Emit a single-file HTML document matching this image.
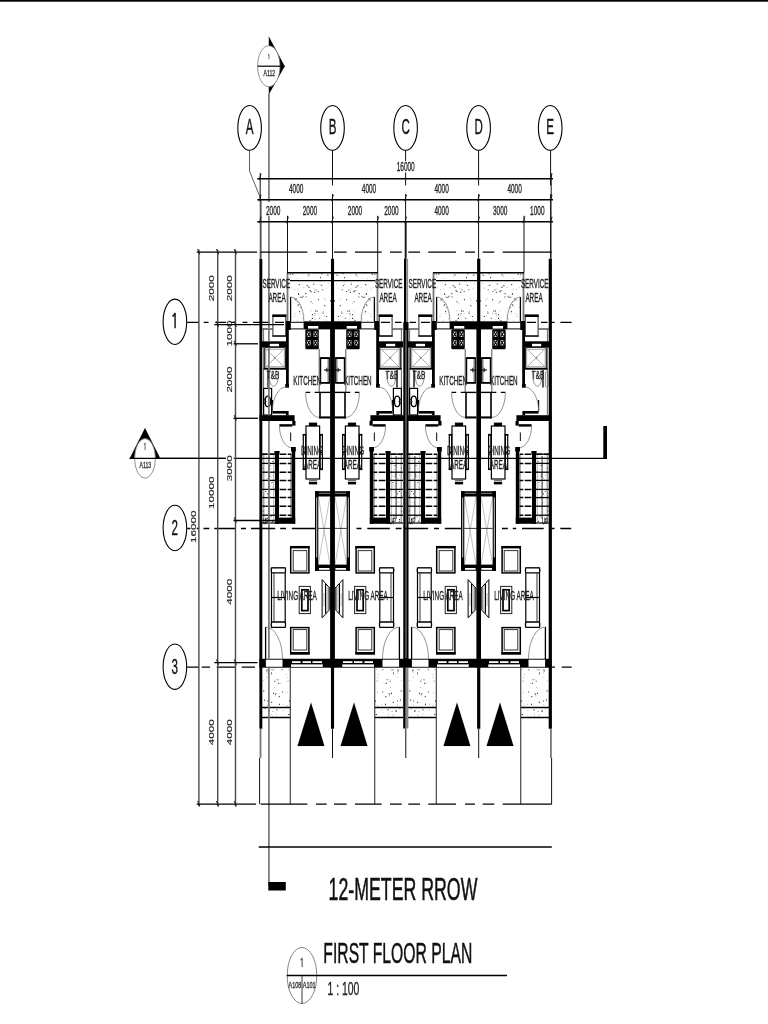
<!DOCTYPE html>
<html><head><meta charset="utf-8"><title>First Floor Plan</title>
<style>html,body{margin:0;padding:0;background:#fff}svg{display:block}</style></head>
<body>
<svg style="will-change:transform" width="768" height="1024" viewBox="0 0 768 1024" font-family="'Liberation Sans',Arial,sans-serif">
<defs><g id="u"><path d="M299.74 297.23h.9M316.75 311.22h.9M290.02 313.47h.9M321.5 273.7h.9M327.47 275.06h.9M312.03 318.4h.9M298.09 293.73h.9M298.31 294.49h.9M298.8 284.61h.9M308.52 287.42h.9M319.31 318.27h.9M324.41 305.57h.9M310.48 301.7h.9M299.21 311.64h.9M317.74 291.47h.9M305.67 296.96h.9M314.25 292.37h.9M311.95 314.64h.9M309.6 290.62h.9M308.45 274.93h.9M292.37 274.4h.9M321.21 285.5h.9M315.6 290.03h.9M295.65 298.76h.9M300.51 307.54h.9M302.61 296.2h.9M305.38 293.68h.9M289.69 274.45h.9M317.89 299.58h.9M298.38 304.53h.9M306.65 285.64h.9M330.08 300.8h.9M310.63 291.63h.9M297.63 305.76h.9M301.5 297.44h.9M326.19 316.51h.9M322.38 289.77h.9M309.58 320.61h.9M319.92 277.64h.9M314.55 313.72h.9M294.61 299.89h.9M322.61 313.12h.9M315.19 310.9h.9M313.29 284.27h.9" fill="none" stroke="#222" stroke-width="1.15"/><path d="M294.56 314.02h.9M319.75 284.51h.9M324.73 300.14h.9M296.78 320.94h.9M293.99 289.47h.9M314.01 315.69h.9M296.22 299.78h.9M310.61 310.73h.9M290.67 307.15h.9M310.35 320.45h.9M310.84 319.03h.9M308.5 286.44h.9M329.86 273.87h.9M324 315.87h.9M323.51 298.34h.9M307.08 276.28h.9M313.25 283.13h.9M311.9 303.34h.9M296.4 301.48h.9M323.05 311.62h.9M299.75 313.75h.9M293.47 316.52h.9M297.77 302.49h.9M319.64 281.24h.9M330.65 311.66h.9M313.5 288.92h.9M291.32 287.84h.9M326.36 288.21h.9M302.11 318.4h.9M326.5 275.41h.9M326.03 320.05h.9M297.13 278.58h.9M297.42 289.23h.9M317.73 313.56h.9M303.55 315.69h.9M327.88 283.76h.9M303.4 287.49h.9M314.71 319.12h.9M290.48 277.09h.9" fill="none" stroke="#aaa" stroke-width="0.9"/>
<path d="M288.03 714.45h.9M278.74 696.56h.9M274.43 681.29h.9M263.33 690.89h.9M277.51 679.72h.9M289.16 701.11h.9M274.87 694.08h.9M281.85 691.95h.9M271.24 702.34h.9M278.24 683.42h.9M264.16 700.06h.9M268.63 710.92h.9M276.49 709.87h.9M268.2 711.17h.9M281.67 669.76h.9M267.17 701.03h.9M266.63 669.97h.9M278.97 704.43h.9M271.57 669.7h.9M271.01 673.18h.9M273.05 693.32h.9M266.34 670.97h.9" fill="none" stroke="#222" stroke-width="1.15"/><path d="M264.86 708.97h.9M280.41 683.24h.9M274.06 687.4h.9M289.06 714.53h.9M272.71 711.72h.9M271.25 674.87h.9M286.37 707.08h.9M286.72 705.43h.9M272.01 716.07h.9M266.89 705h.9M287.2 692.64h.9M272.01 711.28h.9M274.86 695.9h.9M286.75 681.29h.9M270.83 714.92h.9M276.01 693.47h.9M276.22 713.79h.9M264.6 708.24h.9M286.74 677.54h.9M287.99 669.44h.9M263.16 680.68h.9M266.78 677.17h.9M272.86 670.31h.9M282.97 704.31h.9M282.7 710.29h.9M275.18 679.21h.9M285.87 674.42h.9M288.13 680.84h.9M273.77 669.08h.9M266.89 672.88h.9M276.12 716.19h.9" fill="none" stroke="#aaa" stroke-width="0.9"/>
<rect x="286.6" y="272.5" width="1.8" height="49" fill="#777"/>
<line x1="287" y1="272.8" x2="332.5" y2="272.8" stroke="#000" stroke-width="1.4"/>
<line x1="290" y1="280.7" x2="332.5" y2="280.7" stroke="#000" stroke-width="1.3"/>
<line x1="290.6" y1="297" x2="290.6" y2="321.5" stroke="#000" stroke-width="1.3"/>
<path d="M290.6 297A13.2 24 0 0 1 303.8 321" fill="none" stroke="#777" stroke-width="0.8"/>
<rect x="272.9" y="315.3" width="12.8" height="20.6" fill="none" stroke="#333" stroke-width="1.05"/>
<rect x="272.3" y="314.5" width="14" height="2.5" fill="#000"/>
<line x1="272.3" y1="336.1" x2="286.3" y2="336.1" stroke="#000" stroke-width="1.2"/>
<line x1="262.3" y1="329" x2="272.4" y2="329" stroke="#000" stroke-width="1"/>
<line x1="263.6" y1="329" x2="263.6" y2="415" stroke="#444" stroke-width="0.8"/>
<path d="M263.5 322.4H270M275 322.4H284" fill="none" stroke="#000" stroke-width="1.2"/>
<rect x="303.6" y="321.3" width="28.9" height="8.1" fill="#000"/>
<rect x="308" y="326" width="10.3" height="2.6" fill="#fff"/>
<line x1="290.6" y1="322.3" x2="303.8" y2="322.3" stroke="#000" stroke-width="1"/>
<line x1="290.6" y1="328.9" x2="303.8" y2="328.9" stroke="#000" stroke-width="1"/>
<rect x="286" y="321" width="4.8" height="9" fill="#000"/>
<rect x="286" y="321" width="2.8" height="64" fill="#000"/>
<rect x="285.2" y="384" width="3.8" height="3.7" fill="#000"/>
<rect x="305.3" y="329.3" width="13.5" height="20" fill="#000" rx="1" ry="1.5"/>
<rect x="306.9" y="331.7" width="3.7" height="5.2" fill="#fff"/>
<path d="M307.2 332l3.1 4.6M310.3 332l-3.1 4.6" fill="none" stroke="#000" stroke-width="1.1"/>
<rect x="306.9" y="340.1" width="3.7" height="5.2" fill="#fff"/>
<path d="M307.2 340.4l3.1 4.6M310.3 340.4l-3.1 4.6" fill="none" stroke="#000" stroke-width="1.1"/>
<rect x="313.6" y="331.7" width="3.7" height="5.2" fill="#fff"/>
<path d="M313.9 332l3.1 4.6M317 332l-3.1 4.6" fill="none" stroke="#000" stroke-width="1.1"/>
<rect x="313.6" y="340.1" width="3.7" height="5.2" fill="#fff"/>
<path d="M313.9 340.4l3.1 4.6M317 340.4l-3.1 4.6" fill="none" stroke="#000" stroke-width="1.1"/>
<line x1="319.2" y1="349" x2="319.2" y2="392.3" stroke="#555" stroke-width="1"/>
<rect x="320.5" y="358.2" width="8.7" height="24.6" fill="none" stroke="#000" stroke-width="1.4"/>
<rect x="319.8" y="357.2" width="10" height="1.8" fill="#000"/>
<rect x="319.8" y="382" width="10" height="1.6" fill="#000"/>
<line x1="327.9" y1="359" x2="327.9" y2="382" stroke="#777" stroke-width="0.8"/>
<line x1="324" y1="370" x2="330" y2="370" stroke="#000" stroke-width="1.1"/>
<line x1="326.8" y1="367.8" x2="326.8" y2="372.2" stroke="#000" stroke-width="0.9"/>
<line x1="319.3" y1="392.4" x2="330.5" y2="392.4" stroke="#000" stroke-width="1.4"/>
<rect x="319.2" y="392.3" width="1.6" height="26.1" fill="#000"/>
<rect x="319.2" y="416.4" width="11.3" height="2.1" fill="#000"/>
<path d="M305.6 392.4H310.2M314.7 392.4H319.3" fill="none" stroke="#000" stroke-width="1.3"/>
<path d="M305.6 393A13.7 25 0 0 0 319.3 417.4" fill="none" stroke="#777" stroke-width="0.8"/>
<rect x="262" y="341.3" width="25" height="6.2" fill="#000"/>
<rect x="269.8" y="343.8" width="9.2" height="2.5" fill="#fff"/>
<rect x="264.7" y="347.5" width="20.7" height="20.8" fill="none" stroke="#222" stroke-width="1.2"/>
<rect x="265.9" y="349.6" width="18.3" height="16.8" fill="none" stroke="#888" stroke-width="0.6"/>
<path d="M264.7 347.5L285.4 368.3M285.4 347.5L264.7 368.3" fill="none" stroke="#888" stroke-width="0.7"/>
<ellipse cx="274.6" cy="357.9" rx=".8" ry="1.3" fill="#888"/>
<rect x="263.5" y="368" width="22.5" height="1.7" fill="#000"/>
<line x1="268" y1="370" x2="268" y2="387.4" stroke="#000" stroke-width="1.3"/>
<path d="M269 372C269 382 271 386.2 273.6 386.2C276.2 386.2 278.5 382 278.5 372" fill="none" stroke="#777" stroke-width="0.8"/>
<line x1="272.4" y1="400" x2="272.4" y2="411.3" stroke="#000" stroke-width="1.2"/>
<rect x="272.4" y="411" width="14.4" height="2.6" fill="#000"/>
<path d="M286 387A13.7 25 0 0 0 272.3 412" fill="none" stroke="#777" stroke-width="0.8"/>
<rect x="259.4" y="415.2" width="35.2" height="5.8" fill="#000"/>
<rect x="285.9" y="411" width="2.7" height="4.3" fill="#000"/>
<rect x="292.3" y="421" width="3.2" height="4.6" fill="#000"/>
<rect x="279.4" y="424.2" width="13" height="2.4" fill="#000"/>
<path d="M279.4 426A13.1 22.5 0 0 0 292.5 448" fill="none" stroke="#777" stroke-width="0.8"/>
<line x1="290.6" y1="432.5" x2="290.6" y2="441" stroke="#333" stroke-width="1.2"/>
<path d="M265.27 491.46h.9M269.36 496.92h.9M262.75 511.11h.9M265.22 521.71h.9M270.6 516.71h.9M272.44 461.53h.9M265.03 519.69h.9M269.02 474.09h.9M272.16 521.32h.9M271.57 482.5h.9M263.09 496.17h.9M262.95 468.22h.9M269.44 465.47h.9M272.64 480.31h.9M268.44 491.74h.9M267.25 493.86h.9M269.5 497.36h.9M273.39 471.83h.9M269.24 476.44h.9" fill="none" stroke="#222" stroke-width="1.15"/><path d="M271.97 486.92h.9M264.29 497.54h.9M268.46 504.66h.9M263.32 505.8h.9M265.97 457.08h.9M267.89 503.16h.9M271.57 484.79h.9M269.62 475.17h.9M266.92 478.51h.9M269.14 515.58h.9M273 512.38h.9M270.12 465.93h.9M273.4 515.61h.9M270.59 469.15h.9M265.89 506.51h.9M270.65 477.17h.9M273.58 488.86h.9M266.07 460.16h.9M272.32 476.03h.9M268.42 498.14h.9M268.86 496.55h.9M268.28 483.89h.9M265.26 475.17h.9M269.63 486.24h.9M266.55 502.37h.9M262.85 459.06h.9M266.1 479.73h.9M265.96 480.27h.9M262.9 493.14h.9" fill="none" stroke="#aaa" stroke-width="0.9"/>
<line x1="263.8" y1="454" x2="263.8" y2="523" stroke="#555" stroke-width="0.8"/>
<line x1="268.9" y1="456" x2="268.9" y2="519" stroke="#333" stroke-width="1"/>
<line x1="273.8" y1="454" x2="273.8" y2="523" stroke="#999" stroke-width="0.8"/>
<rect x="290.2" y="455" width="1.8" height="62.5" fill="#999"/>
<line x1="262" y1="454.2" x2="275" y2="454.2" stroke="#000" stroke-width="1.3"/>
<path d="M279.6 454.2H286.3M287.7 454.2H291.4" fill="none" stroke="#000" stroke-width="1.5"/>
<line x1="262" y1="463.4" x2="275" y2="463.4" stroke="#000" stroke-width="1.3"/>
<path d="M279.6 463.4H286.3M287.7 463.4H291.4" fill="none" stroke="#000" stroke-width="1.5"/>
<line x1="262" y1="472.2" x2="275" y2="472.2" stroke="#000" stroke-width="1.3"/>
<path d="M279.6 472.2H286.3M287.7 472.2H291.4" fill="none" stroke="#000" stroke-width="1.5"/>
<line x1="262" y1="480.4" x2="275" y2="480.4" stroke="#000" stroke-width="1.3"/>
<path d="M279.6 480.4H286.3M287.7 480.4H291.4" fill="none" stroke="#000" stroke-width="1.5"/>
<line x1="262" y1="489.4" x2="275" y2="489.4" stroke="#000" stroke-width="1.3"/>
<path d="M279.6 489.4H286.3M287.7 489.4H291.4" fill="none" stroke="#000" stroke-width="1.5"/>
<line x1="262" y1="497.6" x2="275" y2="497.6" stroke="#000" stroke-width="1.3"/>
<path d="M279.6 497.6H286.3M287.7 497.6H291.4" fill="none" stroke="#000" stroke-width="1.5"/>
<line x1="262" y1="506.2" x2="275" y2="506.2" stroke="#000" stroke-width="1.3"/>
<path d="M279.6 506.2H286.3M287.7 506.2H291.4" fill="none" stroke="#000" stroke-width="1.5"/>
<line x1="262" y1="515.2" x2="275" y2="515.2" stroke="#000" stroke-width="1.3"/>
<path d="M279.6 515.2H286.3M287.7 515.2H291.4" fill="none" stroke="#000" stroke-width="1.5"/>
<path d="M262 454.2H267M268.75 454.2H274.4" fill="none" stroke="#000" stroke-width="1.3"/>
<line x1="262" y1="523" x2="275" y2="523" stroke="#000" stroke-width="1.2"/>
<rect x="291.8" y="448" width="3.4" height="75.7" fill="#000"/>
<rect x="291" y="447" width="4.8" height="4.5" fill="#000"/>
<rect x="275" y="452" width="4" height="71.7" fill="#000"/>
<rect x="274.4" y="451" width="5.2" height="2.6" fill="#000"/>
<rect x="275" y="517.6" width="20.2" height="6.2" fill="#000"/>
<rect x="306" y="426" width="13.6" height="53" fill="none" stroke="#000" stroke-width="1.2"/>
<rect x="308.9" y="422.6" width="8.2" height="3.6" fill="#000"/>
<line x1="308.9" y1="480.8" x2="317.1" y2="480.8" stroke="#000" stroke-width="0.8"/>
<rect x="308.9" y="482" width="8.2" height="2.4" fill="#000"/>
<rect x="303.3" y="434.5" width="2.3" height="35" fill="none" stroke="#000" stroke-width="1.2"/>
<rect x="303" y="451.5" width="2.9" height="1.5" fill="#000"/>
<rect x="302.8" y="434" width="3.3" height="1.6" fill="#000"/>
<rect x="302.8" y="468.4" width="3.3" height="1.6" fill="#000"/>
<rect x="320.1" y="434.5" width="2.3" height="35" fill="none" stroke="#000" stroke-width="1.2"/>
<rect x="319.8" y="451.5" width="2.9" height="1.5" fill="#000"/>
<rect x="319.6" y="434" width="3.3" height="1.6" fill="#000"/>
<rect x="319.6" y="468.4" width="3.3" height="1.6" fill="#000"/>
<path d="M318.3 496.5L330 564.6M330 496.5L318.3 564.6" fill="none" stroke="#999" stroke-width="0.6"/>
<line x1="318.3" y1="528.4" x2="332.5" y2="528.4" stroke="#222" stroke-width="0.9"/>
<rect x="315" y="491.2" width="17.5" height="5.3" fill="#000"/>
<line x1="319" y1="493.3" x2="330" y2="493.3" stroke="#ddd" stroke-width="0.6"/>
<rect x="315" y="491.2" width="3.3" height="79.6" fill="#000"/>
<rect x="316.2" y="497.5" width="1" height="60" fill="#ccc"/>
<rect x="315" y="564.6" width="17.5" height="6.2" fill="#000"/>
<rect x="319" y="568" width="10.6" height="1.8" fill="#fff"/>
<rect x="290.7" y="546.7" width="18.2" height="26.2" fill="none" stroke="#000" stroke-width="1.5"/>
<rect x="290" y="546" width="19.6" height="2.4" fill="#000"/>
<rect x="293.2" y="550.6" width="13.6" height="20.4" fill="none" stroke="#333" stroke-width="1"/>
<rect x="290.7" y="627.6" width="18.2" height="26.1" fill="none" stroke="#000" stroke-width="1.5"/>
<rect x="290" y="652" width="19.6" height="2.5" fill="#000"/>
<rect x="293.2" y="629.6" width="13.6" height="20.4" fill="none" stroke="#333" stroke-width="1"/>
<rect x="271.5" y="568" width="13.7" height="59.2" fill="none" stroke="#000" stroke-width="1.2"/>
<rect x="271.3" y="567.8" width="14.2" height="5" fill="#fff" stroke="#000" stroke-width="1.3" rx="1" ry="1.5"/>
<rect x="271.3" y="622" width="14.2" height="5.3" fill="#fff" stroke="#000" stroke-width="1.3" rx="1" ry="1.5"/>
<line x1="274" y1="572.8" x2="274" y2="622" stroke="#333" stroke-width="1"/>
<line x1="271.3" y1="597.5" x2="285.5" y2="597.5" stroke="#000" stroke-width="1.2"/>
<rect x="299.2" y="586.4" width="11.2" height="27.2" fill="none" stroke="#222" stroke-width="1"/>
<rect x="301.8" y="589.8" width="6.2" height="20.8" fill="none" stroke="#000" stroke-width="1.7"/>
<path d="M322.1 579.6L329.8 588V609.5L322.1 617.8Z" fill="#fff" stroke="#000" stroke-width="1"/>
<rect x="323.4" y="593" width="1" height="13" fill="#bbb"/>
<rect x="325" y="584" width="1.3" height="29.4" fill="#000"/>
<rect x="326.3" y="586" width="2" height="25" fill="#ccc"/>
<line x1="328.6" y1="587" x2="328.6" y2="610.5" stroke="#333" stroke-width="0.6"/>
<line x1="265.6" y1="627" x2="265.6" y2="659" stroke="#000" stroke-width="1.3"/>
<path d="M265.6 627A17 31.8 0 0 1 282.5 658.8" fill="none" stroke="#777" stroke-width="0.8"/>
<rect x="259.4" y="658.75" width="73.1" height="8.95" fill="#000"/>
<rect x="265.9" y="659.7" width="16.6" height="7.1" fill="#fff"/>
<rect x="292" y="661.2" width="8.6" height="1.8" fill="#fff"/>
<rect x="302.5" y="661.2" width="8.5" height="1.8" fill="#fff"/>
<rect x="312.5" y="661.2" width="9.5" height="1.8" fill="#fff"/>
<rect x="291" y="664.4" width="31.75" height="2.5" fill="#fff"/>
<line x1="262" y1="707.5" x2="290.25" y2="707.5" stroke="#000" stroke-width="1.5"/>
<line x1="262" y1="717.5" x2="290.25" y2="717.5" stroke="#000" stroke-width="1.5"/>
<line x1="290.25" y1="667.6" x2="290.25" y2="804" stroke="#222" stroke-width="1"/>
<path d="M297.5 746L324.4 746L311 702.5Z" fill="#000" stroke="#000" stroke-width="0.1"/></g><g id="sk"><rect x="263.6" y="388.4" width="8" height="26.6" fill="none" stroke="#000" stroke-width="1.2"/>
<ellipse cx="267.8" cy="401.4" rx="2.7" ry="5.2" fill="none" stroke="#000" stroke-width="1.3"/>
<path d="M264.3 398.6L266 401.4L264.3 404.2" fill="none" stroke="#000" stroke-width="1"/></g></defs>
<rect x="0" y="0" width="768" height="1024" fill="#fff"/>
<rect x="0" y="0" width="768" height="1.7" fill="#000"/>
<text transform="translate(266,523.8) scale(0.527,1)" text-anchor="middle" font-size="9" fill="#333" stroke="#333" stroke-width="0.34">UP</text>
<text transform="translate(392.5,523.8) scale(0.527,1)" text-anchor="middle" font-size="9" fill="#333" stroke="#333" stroke-width="0.34">UP</text>
<text transform="translate(412,523.8) scale(0.527,1)" text-anchor="middle" font-size="9" fill="#333" stroke="#333" stroke-width="0.34">UP</text>
<text transform="translate(545,523.8) scale(0.527,1)" text-anchor="middle" font-size="9" fill="#333" stroke="#333" stroke-width="0.34">UP</text>
<use href="#u"/>
<use href="#u" transform="translate(665,0) scale(-1,1)"/>
<use href="#u" transform="translate(146,0)"/>
<use href="#u" transform="translate(811,0) scale(-1,1)"/>
<use href="#sk"/><use href="#sk" transform="translate(665,0) scale(-1,1)"/><use href="#sk" transform="translate(146,0)"/>
<rect x="545.4" y="371.7" width="2.6" height="15.3" fill="none" stroke="#777" stroke-width="0.8" rx="1" ry="1.5"/>
<path d="M268.9 94V202M268.9 216V341.3M268.9 347.5V415.2M268.9 421V658.75M268.9 667.7V885.5" fill="none" stroke="#777" stroke-width="1.7"/>
<line x1="129.7" y1="458.4" x2="606.5" y2="458.4" stroke="#000" stroke-width="1.3"/>
<rect x="603.3" y="426" width="3.7" height="33" fill="#000"/>
<rect x="268.3" y="882" width="17.5" height="8.5" fill="#000"/>
<rect x="259.4" y="258.75" width="2.9" height="470" fill="#000"/>
<rect x="259.7" y="199" width="1.9" height="59.75" fill="#555"/>
<rect x="259.6" y="728.75" width="1.8" height="29.25" fill="#777"/>
<line x1="259.6" y1="758" x2="259.6" y2="804" stroke="#111" stroke-width="1"/>
<rect x="330.95" y="258.75" width="3.1" height="63.25" fill="#000"/><rect x="330.1" y="322" width="4.8" height="345.6" fill="#000"/><rect x="330.95" y="667.6" width="3.1" height="61.15" fill="#000"/><line x1="332.5" y1="728.75" x2="332.5" y2="758" stroke="#111" stroke-width="1"/>
<rect x="404.6" y="222" width="2.2" height="36.75" fill="#555"/>
<rect x="404" y="258.75" width="2.2" height="63.25" fill="#000"/>
<rect x="406.2" y="258.75" width="1.9" height="63.25" fill="#888"/>
<rect x="403.3" y="322" width="5.2" height="345.6" fill="#000"/>
<rect x="405.5" y="330" width="1" height="328" fill="#999"/>
<rect x="403.2" y="667.6" width="2.5" height="60.9" fill="#000"/>
<rect x="405.7" y="667.6" width="2.7" height="60.9" fill="#888"/>
<line x1="405.8" y1="728.5" x2="405.8" y2="758" stroke="#111" stroke-width="1"/>
<rect x="477.1" y="258.75" width="3.2" height="63.25" fill="#000"/><rect x="476.4" y="322" width="4.6" height="345.6" fill="#000"/><rect x="477.1" y="667.6" width="3.2" height="61.15" fill="#000"/><line x1="478.7" y1="728.75" x2="478.7" y2="758" stroke="#111" stroke-width="1"/>
<rect x="548.7" y="258.75" width="3.2" height="470" fill="#000"/>
<rect x="550.3" y="199" width="1.4" height="59.75" fill="#666"/>
<rect x="550" y="728.75" width="1.8" height="29.25" fill="#777"/>
<line x1="551.6" y1="758" x2="551.6" y2="804" stroke="#111" stroke-width="1"/>
<line x1="257.3" y1="178.7" x2="553" y2="178.7" stroke="#000" stroke-width="1.45"/>
<line x1="257.3" y1="199.7" x2="553" y2="199.7" stroke="#000" stroke-width="1.45"/>
<line x1="257.3" y1="221.7" x2="553" y2="221.7" stroke="#000" stroke-width="1.45"/>
<line x1="332.5" y1="150" x2="332.5" y2="185.5" stroke="#111" stroke-width="1"/>
<line x1="332.5" y1="194" x2="332.5" y2="258.75" stroke="#111" stroke-width="1"/>
<line x1="405.6" y1="150" x2="405.6" y2="185.5" stroke="#111" stroke-width="1"/>
<line x1="405.6" y1="194" x2="405.6" y2="258.75" stroke="#111" stroke-width="1"/>
<line x1="478.6" y1="150" x2="478.6" y2="185.5" stroke="#111" stroke-width="1"/>
<line x1="478.6" y1="194" x2="478.6" y2="258.75" stroke="#111" stroke-width="1"/>
<line x1="550.6" y1="150" x2="550.6" y2="185.5" stroke="#111" stroke-width="1"/>
<line x1="550.6" y1="194" x2="550.6" y2="258.75" stroke="#111" stroke-width="1"/>
<path d="M249.5 150V171L260.6 198.5" fill="none" stroke="#333" stroke-width="0.8"/>
<line x1="260.2" y1="173" x2="260.2" y2="199.7" stroke="#111" stroke-width="1"/>
<line x1="551.2" y1="173" x2="551.2" y2="199.7" stroke="#111" stroke-width="1"/>
<line x1="287.5" y1="215.8" x2="287.5" y2="272.5" stroke="#111" stroke-width="1"/>
<line x1="377.7" y1="215.8" x2="377.7" y2="272.5" stroke="#111" stroke-width="1"/>
<line x1="524" y1="215.8" x2="524" y2="272.5" stroke="#111" stroke-width="1"/>
<ellipse cx="249.6" cy="127.9" rx="11.8" ry="22.4" fill="#fff" stroke="#000" stroke-width="1.1"/>
<text transform="translate(249.6,134.2) scale(0.527,1)" text-anchor="middle" font-size="22" fill="#111" stroke="#111" stroke-width="0.37">A</text>
<ellipse cx="332.5" cy="127.9" rx="11.8" ry="22.4" fill="#fff" stroke="#000" stroke-width="1.1"/>
<text transform="translate(332.5,134.2) scale(0.527,1)" text-anchor="middle" font-size="22" fill="#111" stroke="#111" stroke-width="0.37">B</text>
<ellipse cx="405.6" cy="127.9" rx="11.8" ry="22.4" fill="#fff" stroke="#000" stroke-width="1.1"/>
<text transform="translate(405.6,134.2) scale(0.527,1)" text-anchor="middle" font-size="22" fill="#111" stroke="#111" stroke-width="0.37">C</text>
<ellipse cx="478.6" cy="127.9" rx="11.8" ry="22.4" fill="#fff" stroke="#000" stroke-width="1.1"/>
<text transform="translate(478.6,134.2) scale(0.527,1)" text-anchor="middle" font-size="22" fill="#111" stroke="#111" stroke-width="0.37">D</text>
<ellipse cx="550.2" cy="127.9" rx="11.8" ry="22.4" fill="#fff" stroke="#000" stroke-width="1.1"/>
<text transform="translate(550.2,134.2) scale(0.527,1)" text-anchor="middle" font-size="22" fill="#111" stroke="#111" stroke-width="0.37">E</text>
<rect x="396" y="161" width="19.5" height="11.5" fill="#fff"/>
<text transform="translate(405.7,171.1) scale(0.527,1)" text-anchor="middle" font-size="12.3" fill="#222" stroke="#222" stroke-width="0.34">16000</text>
<text transform="translate(296.2,192.6) scale(0.527,1)" text-anchor="middle" font-size="12.3" fill="#222" stroke="#222" stroke-width="0.34">4000</text>
<text transform="translate(369,192.6) scale(0.527,1)" text-anchor="middle" font-size="12.3" fill="#222" stroke="#222" stroke-width="0.34">4000</text>
<text transform="translate(441.6,192.6) scale(0.527,1)" text-anchor="middle" font-size="12.3" fill="#222" stroke="#222" stroke-width="0.34">4000</text>
<text transform="translate(514.6,192.6) scale(0.527,1)" text-anchor="middle" font-size="12.3" fill="#222" stroke="#222" stroke-width="0.34">4000</text>
<rect x="265" y="202" width="16" height="14" fill="#fff"/>
<text transform="translate(273.2,214.6) scale(0.527,1)" text-anchor="middle" font-size="12.3" fill="#222" stroke="#222" stroke-width="0.34">2000</text>
<text transform="translate(309.9,214.6) scale(0.527,1)" text-anchor="middle" font-size="12.3" fill="#222" stroke="#222" stroke-width="0.34">2000</text>
<text transform="translate(355,214.6) scale(0.527,1)" text-anchor="middle" font-size="12.3" fill="#222" stroke="#222" stroke-width="0.34">2000</text>
<text transform="translate(391.4,214.6) scale(0.527,1)" text-anchor="middle" font-size="12.3" fill="#222" stroke="#222" stroke-width="0.34">2000</text>
<text transform="translate(441.6,214.6) scale(0.527,1)" text-anchor="middle" font-size="12.3" fill="#222" stroke="#222" stroke-width="0.34">4000</text>
<text transform="translate(500.2,214.6) scale(0.527,1)" text-anchor="middle" font-size="12.3" fill="#222" stroke="#222" stroke-width="0.34">3000</text>
<text transform="translate(537.3,214.6) scale(0.527,1)" text-anchor="middle" font-size="12.3" fill="#222" stroke="#222" stroke-width="0.34">1000</text>
<path d="M260.7 252.2H307.3M316 252.2H326.7M334 252.2H346.7M355 252.2H381.7M390 252.2H401.7M408.3 252.2H420M428.3 252.2H456M465 252.2H475M482.7 252.2H494.3M502.7 252.2H551.7" fill="none" stroke="#000" stroke-width="1.3"/>
<path d="M260.7 804.2H307.3M316 804.2H326.7M334 804.2H346.7M355 804.2H381.7M390 804.2H401.7M408.3 804.2H420M428.3 804.2H456M465 804.2H475M482.7 804.2H494.3M502.7 804.2H551.7" fill="none" stroke="#000" stroke-width="1.3"/>
<path d="M187.2 322.4H198.8M203.7 322.4H208.5M215.3 322.4H226.2M231 322.4H235.5M242.6 322.4H247.4M253 322.4H264M552 322.4H554.6M560.4 322.4H571.6" fill="none" stroke="#000" stroke-width="1.3"/>
<path d="M187.2 528.5H198.8M203.5 528.5H209.3M214.3 528.5H235.2M241 528.5H246M251 528.5H275.2M280.2 528.5H286M291.8 528.5H315M356.5 528.5H361.5M367.3 528.5H389.8M395.7 528.5H401.5M404 528.5H428.2M434 528.5H439M444.8 528.5H461M502 528.5H507.8M512.8 528.5H516.2M522 528.5H543.7M552 528.5H554.5M560.3 528.5H571.2" fill="none" stroke="#000" stroke-width="1.3"/>
<path d="M187.2 667.2H198.8M201.7 667.2H210M216.7 667.2H235M241.7 667.2H255M552 667.2H555M561.7 667.2H571.7" fill="none" stroke="#000" stroke-width="1.3"/>
<line x1="198.9" y1="249.5" x2="198.9" y2="806.5" stroke="#4a4a4a" stroke-width="1.4"/>
<line x1="217.7" y1="249.5" x2="217.7" y2="806.5" stroke="#4a4a4a" stroke-width="1.4"/>
<line x1="235.5" y1="249.5" x2="235.5" y2="806.5" stroke="#4a4a4a" stroke-width="1.4"/>
<line x1="196.7" y1="252.2" x2="257" y2="252.2" stroke="#000" stroke-width="1.3"/>
<line x1="196.7" y1="804.2" x2="256" y2="804.2" stroke="#000" stroke-width="1.3"/>
<line x1="214.3" y1="324.6" x2="284" y2="324.6" stroke="#000" stroke-width="1.4"/>
<line x1="233.5" y1="343.8" x2="258" y2="343.8" stroke="#000" stroke-width="1.3"/>
<line x1="233.5" y1="418.3" x2="258" y2="418.3" stroke="#000" stroke-width="1.3"/>
<line x1="233.5" y1="520.5" x2="275" y2="520.5" stroke="#000" stroke-width="1.3"/>
<line x1="214.3" y1="662.6" x2="257.5" y2="662.6" stroke="#000" stroke-width="1.3"/>
<ellipse cx="174.9" cy="321.8" rx="11.8" ry="22.7" fill="#fff" stroke="#000" stroke-width="1.1"/>
<text transform="translate(174.8,328.1) scale(0.68,1)" text-anchor="middle" font-size="19.4" fill="#111" stroke="#111" stroke-width="0.7" font-family="NanumGothic,'Liberation Sans',sans-serif">1</text>
<ellipse cx="174.9" cy="528" rx="11.8" ry="22.7" fill="#fff" stroke="#000" stroke-width="1.1"/>
<text transform="translate(174.7,535.1) scale(0.527,1)" text-anchor="middle" font-size="22" fill="#111" stroke="#111" stroke-width="0.37">2</text>
<ellipse cx="174.9" cy="666.7" rx="11.8" ry="22.7" fill="#fff" stroke="#000" stroke-width="1.1"/>
<text transform="translate(174.7,673.8) scale(0.527,1)" text-anchor="middle" font-size="22" fill="#111" stroke="#111" stroke-width="0.37">3</text>
<rect x="190.3" y="511" width="6.5" height="32" fill="#fff"/>
<text transform="translate(196,526.8) scale(0.56,1) rotate(-90)" text-anchor="middle" font-size="11.7" fill="#222" stroke="#222" stroke-width=".22">16000</text>
<text transform="translate(214.2,288.3) scale(0.56,1) rotate(-90)" text-anchor="middle" font-size="11.7" fill="#222" stroke="#222" stroke-width=".22">2000</text>
<text transform="translate(214.2,492.7) scale(0.56,1) rotate(-90)" text-anchor="middle" font-size="11.7" fill="#222" stroke="#222" stroke-width=".22">10000</text>
<text transform="translate(214.2,732.3) scale(0.56,1) rotate(-90)" text-anchor="middle" font-size="11.7" fill="#222" stroke="#222" stroke-width=".22">4000</text>
<text transform="translate(232.2,288.3) scale(0.56,1) rotate(-90)" text-anchor="middle" font-size="11.7" fill="#222" stroke="#222" stroke-width=".22">2000</text>
<text transform="translate(232.2,333.5) scale(0.56,1) rotate(-90)" text-anchor="middle" font-size="11.7" fill="#222" stroke="#222" stroke-width=".22">1000</text>
<text transform="translate(232.2,379.6) scale(0.56,1) rotate(-90)" text-anchor="middle" font-size="11.7" fill="#222" stroke="#222" stroke-width=".22">2000</text>
<rect x="226" y="455" width="7.7" height="7" fill="#fff"/>
<text transform="translate(232.2,468.2) scale(0.56,1) rotate(-90)" text-anchor="middle" font-size="11.7" fill="#222" stroke="#222" stroke-width=".22">3000</text>
<text transform="translate(232.2,591.7) scale(0.56,1) rotate(-90)" text-anchor="middle" font-size="11.7" fill="#222" stroke="#222" stroke-width=".22">4000</text>
<text transform="translate(232.2,732.3) scale(0.56,1) rotate(-90)" text-anchor="middle" font-size="11.7" fill="#222" stroke="#222" stroke-width=".22">4000</text>
<path d="M259.2 180.2L261.1 173.7M550.2 180.2L552.1 173.7M259.2 201.2L261.1 194.7M331.5 201.2L333.4 194.7M404.6 201.2L406.5 194.7M477.6 201.2L479.5 194.7M550.2 201.2L552.1 194.7M259.2 223.2L261.1 216.7M286.5 223.2L288.4 216.7M331.5 223.2L333.4 216.7M376.7 223.2L378.6 216.7M404.6 223.2L406.5 216.7M477.6 223.2L479.5 216.7M523 223.2L524.9 216.7M550.2 223.2L552.1 216.7M197.6 249L199.8 254.4M197.6 801L199.8 806.4M216.4 249L218.6 254.4M216.4 321.4L218.6 326.8M216.4 659.4L218.6 664.8M216.4 801L218.6 806.4M234.2 249L236.4 254.4M234.2 321.4L236.4 326.8M234.2 340.6L236.4 346M234.2 415.1L236.4 420.5M234.2 517.3L236.4 522.7M234.2 659.4L236.4 664.8M234.2 801L236.4 806.4" fill="none" stroke="#111" stroke-width="0.9"/>
<path d="M268.8 36.5L284.7 66.2L268.8 94.5Z" fill="#000" stroke="#000" stroke-width="0.1"/>
<ellipse cx="268.8" cy="66.2" rx="11.2" ry="20.5" fill="#fff" stroke="#777" stroke-width=".8"/>
<line x1="257.6" y1="66.2" x2="284.7" y2="66.2" stroke="#000" stroke-width="1.2"/>
<text transform="translate(268.8,58.9) scale(0.68,1)" text-anchor="middle" font-size="7.4" fill="#444" stroke="#444" stroke-width="0.3" font-family="NanumGothic,'Liberation Sans',sans-serif">1</text>
<text transform="translate(269.3,75.7) scale(0.63,1)" text-anchor="middle" font-size="8.2" fill="#333" stroke="#333" stroke-width="0.34">A112</text>
<path d="M129.7 458.4L160.3 458.4L145 428Z" fill="#000" stroke="#000" stroke-width="0.1"/>
<ellipse cx="145" cy="458.4" rx="10.4" ry="19.8" fill="#fff" stroke="#777" stroke-width=".8"/>
<line x1="129.7" y1="458.4" x2="225.8" y2="458.4" stroke="#000" stroke-width="1.3"/>
<text transform="translate(145,449.9) scale(0.68,1)" text-anchor="middle" font-size="9.2" fill="#444" stroke="#444" stroke-width="0.3" font-family="NanumGothic,'Liberation Sans',sans-serif">1</text>
<text transform="translate(145.3,468) scale(0.63,1)" text-anchor="middle" font-size="8.2" fill="#333" stroke="#333" stroke-width="0.34">A113</text>
<line x1="258.75" y1="847" x2="551.8" y2="847" stroke="#000" stroke-width="1.3"/>
<text transform="translate(403,900) scale(0.551,1)" text-anchor="middle" font-size="32.2" fill="#111" stroke="#111" stroke-width="0.55">12-METER RROW</text>
<text transform="translate(397.8,962.9) scale(0.538,1)" text-anchor="middle" font-size="29.2" fill="#111" stroke="#111" stroke-width="0.5">FIRST FLOOR PLAN</text>
<ellipse cx="302" cy="975.5" rx="14.8" ry="28" fill="none" stroke="#666" stroke-width=".8"/>
<line x1="286.8" y1="975.5" x2="507" y2="975.5" stroke="#000" stroke-width="1.3"/>
<line x1="302" y1="975.5" x2="302" y2="1003.5" stroke="#222" stroke-width="0.9"/>
<text transform="translate(302,966.8) scale(0.68,1)" text-anchor="middle" font-size="11.6" fill="#333" stroke="#333" stroke-width="0.35" font-family="NanumGothic,'Liberation Sans',sans-serif">1</text>
<text transform="translate(295,988) scale(0.65,1)" text-anchor="middle" font-size="8.5" fill="#333" stroke="#333" stroke-width="0.34">A108</text>
<text transform="translate(309.2,988) scale(0.65,1)" text-anchor="middle" font-size="8.5" fill="#333" stroke="#333" stroke-width="0.34">A101</text>
<text transform="translate(327.6,995.4) scale(0.558,1)" text-anchor="start" font-size="18.6" fill="#222" stroke="#222" stroke-width="0.32">1 : 100</text>
<text transform="translate(276.3,288.2) scale(0.527,1)" text-anchor="middle" font-size="12" fill="#222" stroke="#222" stroke-width="0.34">SERVICE</text>
<text transform="translate(277,302) scale(0.527,1)" text-anchor="middle" font-size="12" fill="#222" stroke="#222" stroke-width="0.34">AREA</text>
<text transform="translate(307.2,385) scale(0.527,1)" text-anchor="middle" font-size="12" fill="#222" stroke="#222" stroke-width="0.34">KITCHEN</text>
<text transform="translate(273,379.4) scale(0.62,1)" text-anchor="middle" font-size="10.2" fill="#222" stroke="#222" stroke-width="0.34">T&amp;B</text>
<text transform="translate(312,454.8) scale(0.527,1)" text-anchor="middle" font-size="12" fill="#222" stroke="#222" stroke-width="0.34">DINING</text>
<text transform="translate(312.6,468.9) scale(0.527,1)" text-anchor="middle" font-size="12" fill="#222" stroke="#222" stroke-width="0.34">AREA</text>
<text transform="translate(297,600.3) scale(0.527,1)" text-anchor="middle" font-size="12" fill="#222" stroke="#222" stroke-width="0.34">LIVING AREA</text>
<text transform="translate(388.7,288.2) scale(0.527,1)" text-anchor="middle" font-size="12" fill="#222" stroke="#222" stroke-width="0.34">SERVICE</text>
<text transform="translate(388,302) scale(0.527,1)" text-anchor="middle" font-size="12" fill="#222" stroke="#222" stroke-width="0.34">AREA</text>
<text transform="translate(357.8,385) scale(0.527,1)" text-anchor="middle" font-size="12" fill="#222" stroke="#222" stroke-width="0.34">KITCHEN</text>
<text transform="translate(392,379.4) scale(0.62,1)" text-anchor="middle" font-size="10.2" fill="#222" stroke="#222" stroke-width="0.34">T&amp;B</text>
<text transform="translate(353,454.8) scale(0.527,1)" text-anchor="middle" font-size="12" fill="#222" stroke="#222" stroke-width="0.34">DINING</text>
<text transform="translate(352.4,468.9) scale(0.527,1)" text-anchor="middle" font-size="12" fill="#222" stroke="#222" stroke-width="0.34">AREA</text>
<text transform="translate(368,600.3) scale(0.527,1)" text-anchor="middle" font-size="12" fill="#222" stroke="#222" stroke-width="0.34">LIVING AREA</text>
<text transform="translate(422.3,288.2) scale(0.527,1)" text-anchor="middle" font-size="12" fill="#222" stroke="#222" stroke-width="0.34">SERVICE</text>
<text transform="translate(423,302) scale(0.527,1)" text-anchor="middle" font-size="12" fill="#222" stroke="#222" stroke-width="0.34">AREA</text>
<text transform="translate(453.2,385) scale(0.527,1)" text-anchor="middle" font-size="12" fill="#222" stroke="#222" stroke-width="0.34">KITCHEN</text>
<text transform="translate(419,379.4) scale(0.62,1)" text-anchor="middle" font-size="10.2" fill="#222" stroke="#222" stroke-width="0.34">T&amp;B</text>
<text transform="translate(458,454.8) scale(0.527,1)" text-anchor="middle" font-size="12" fill="#222" stroke="#222" stroke-width="0.34">DINING</text>
<text transform="translate(458.6,468.9) scale(0.527,1)" text-anchor="middle" font-size="12" fill="#222" stroke="#222" stroke-width="0.34">AREA</text>
<text transform="translate(443,600.3) scale(0.527,1)" text-anchor="middle" font-size="12" fill="#222" stroke="#222" stroke-width="0.34">LIVING AREA</text>
<text transform="translate(534.7,288.2) scale(0.527,1)" text-anchor="middle" font-size="12" fill="#222" stroke="#222" stroke-width="0.34">SERVICE</text>
<text transform="translate(534,302) scale(0.527,1)" text-anchor="middle" font-size="12" fill="#222" stroke="#222" stroke-width="0.34">AREA</text>
<text transform="translate(503.8,385) scale(0.527,1)" text-anchor="middle" font-size="12" fill="#222" stroke="#222" stroke-width="0.34">KITCHEN</text>
<text transform="translate(538,379.4) scale(0.62,1)" text-anchor="middle" font-size="10.2" fill="#222" stroke="#222" stroke-width="0.34">T&amp;B</text>
<text transform="translate(499,454.8) scale(0.527,1)" text-anchor="middle" font-size="12" fill="#222" stroke="#222" stroke-width="0.34">DINING</text>
<text transform="translate(498.4,468.9) scale(0.527,1)" text-anchor="middle" font-size="12" fill="#222" stroke="#222" stroke-width="0.34">AREA</text>
<text transform="translate(514,600.3) scale(0.527,1)" text-anchor="middle" font-size="12" fill="#222" stroke="#222" stroke-width="0.34">LIVING AREA</text>
</svg>
</body></html>
